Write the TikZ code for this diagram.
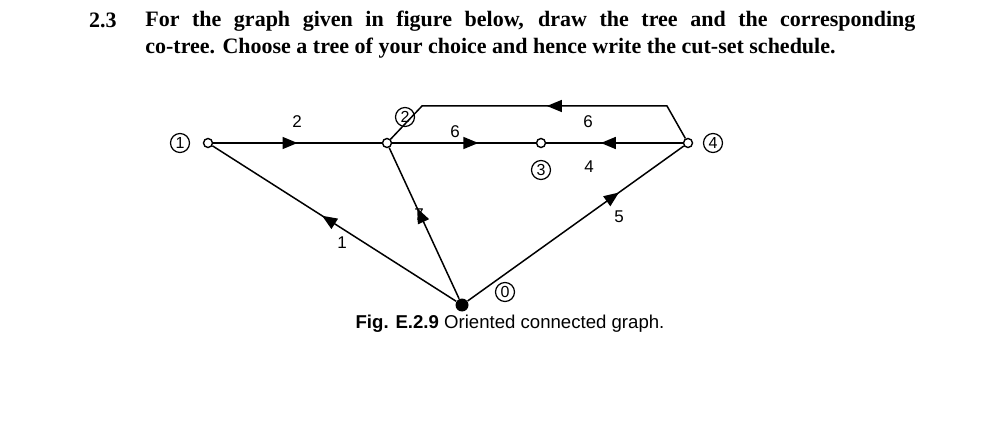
\documentclass[tikz,border=0pt]{standalone}
\usepackage{fontspec}
\setmainfont{Liberation Serif}
\setsansfont{Liberation Sans}
\usetikzlibrary{decorations.markings,arrows.meta}
\begin{document}
\begin{tikzpicture}[x=0.5pt,y=-0.5pt,
  vtx/.style={circle,draw,fill=white,inner sep=0pt,minimum size=4.5pt,line width=0.7pt},
  gnd/.style={circle,fill=black,inner sep=0pt,minimum size=6.5pt},
  clab/.style={circle,draw,inner sep=0pt,minimum size=9.5pt,font=\sffamily\fontsize{8}{8}\selectfont,line width=0.6pt},
  elab/.style={font=\sffamily\fontsize{8.5}{8.5}\selectfont},
  edge/.style={line width=0.75pt},
  mark/.style={postaction={decorate},decoration={markings,mark=at position #1 with {\arrow{Triangle[length=7.5pt,width=6pt]}}}}]
\useasboundingbox (0,0) rectangle (997,433);
\node[anchor=west,font=\bfseries\fontsize{11}{13}\selectfont] (num) at (82,20) {2.3};
\node[anchor=north west,inner sep=0pt,align=left,font=\bfseries\fontsize{11}{13.5}\selectfont] (q) at (145,11) {\makebox[385pt][s]{For the graph given in figure below, draw the tree and the corresponding}\\co-tree. Choose a tree of your choice and hence write the cut-set schedule.};
\node[vtx] (n1) at (208,143) {};
\node[vtx] (n2) at (387,143) {};
\node[vtx] (n3) at (541,143) {};
\node[vtx] (n4) at (688,143) {};
\node[gnd] (n0) at (462,305) {};
\coordinate (tl) at (422,106);
\coordinate (tr) at (667,106);
\draw[edge,mark=0.5] (n1) -- (n2);
\draw[edge,mark=0.6] (n2) -- (n3);
\draw[edge,mark=0.6] (n4) -- (n3);
\draw[edge,mark=0.55] (n0) -- (n1);
\draw[edge,mark=0.6] (n0) -- (n2);
\draw[edge,mark=0.7] (n0) -- (n4);
\draw[edge,mark=0.48] (n4) -- (tr) -- (tl) -- (n2);
\node[clab] (l1) at (180,143) {1};
\node[clab] (l2) at (405,117) {2};
\node[clab] (l3) at (541,170) {3};
\node[clab] (l4) at (713,143) {4};
\node[clab] (l0) at (505,292) {0};
\node[elab] at (297,122) {2};
\node[elab] at (455,132) {6};
\node[elab] at (588,122) {6};
\node[elab] at (589,167) {4};
\node[elab] at (419,215) {7};
\node[elab] at (342,243) {1};
\node[elab] at (619,217) {5};
\node[font=\sffamily\fontsize{9.3}{11}\selectfont] (cap) at (510,324) {\textbf{Fig. E.2.9} Oriented connected graph.};
\end{tikzpicture}
\end{document}
